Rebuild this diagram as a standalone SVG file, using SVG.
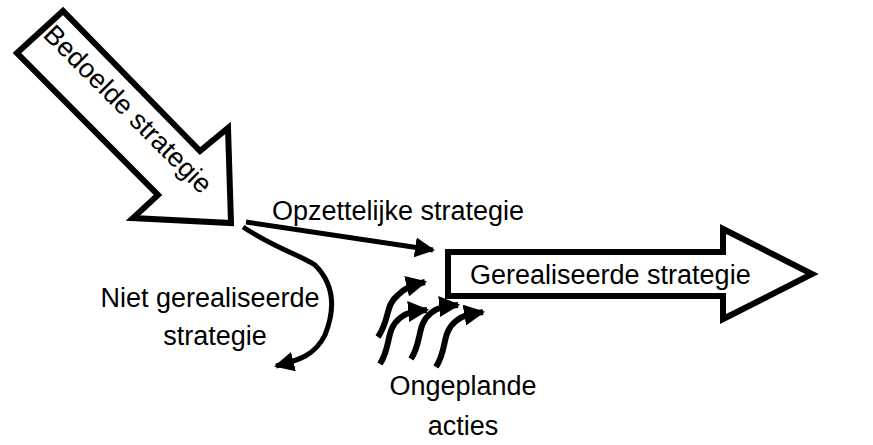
<svg xmlns="http://www.w3.org/2000/svg" width="873" height="445" viewBox="0 0 873 445">
<style>
.big{fill:#fff;stroke:#000;stroke-width:6;stroke-linejoin:miter}
.t{font-family:"Liberation Sans",Arial,sans-serif;font-size:27px;fill:#000}
.c{fill:none;stroke:#000;stroke-width:5}
.s{fill:none;stroke:#000;stroke-width:6}
</style>
<defs>
<marker id="ah" viewBox="0 0 10 10" refX="9" refY="5" markerWidth="4" markerHeight="4" markerUnits="strokeWidth" orient="auto"><path d="M0,0L10,5L0,10z" fill="#000"/></marker>
<marker id="ah2" viewBox="0 0 10 10" refX="9" refY="5" markerWidth="3.5" markerHeight="3.5" markerUnits="strokeWidth" orient="auto"><path d="M0,0L10,5L0,10z" fill="#000"/></marker>
</defs>
<g id="bedoelde">
<polygon class="big" points="17,53 63,11 200,151 228,128 231,223 133,218 158,195"/>
<text class="t" transform="translate(42,36) rotate(45)">Bedoelde strategie</text>
</g>
<g id="gerealiseerde">
<polygon class="big" points="448,252 723,252 723,229 812,274 723,319 723,296 448,296"/>
<text class="t" x="470" y="284">Gerealiseerde strategie</text>
</g>
<g id="labels">
<text class="t" x="272" y="220">Opzettelijke strategie</text>
<text class="t" x="210" y="307" text-anchor="middle">Niet gerealiseerde</text>
<text class="t" x="215" y="345" text-anchor="middle">strategie</text>
<text class="t" x="463" y="395" text-anchor="middle">Ongeplande</text>
<text class="t" x="463" y="435" text-anchor="middle">acties</text>
</g>
<g id="connectors">
<path class="c" d="M246,222 L433,250" marker-end="url(#ah)"/>
<path class="c" d="M243,227 C275,248 300,255 315,265 C335,285 335,310 325,335 C315,355 300,360 276,366" marker-end="url(#ah)"/>
<path class="s" d="M378,337 C390,320 385,305 398,295 C405,288 412,285 425,282" marker-end="url(#ah2)"/>
<path class="s" d="M380,364 C392,345 385,330 400,318 C407,312 415,311 427,310" marker-end="url(#ah2)"/>
<path class="s" d="M411,359 C423,340 416,325 431,313 C438,307 446,306 458,305" marker-end="url(#ah2)"/>
<path class="s" d="M436,367 C448,348 441,333 456,321 C463,315 471,314 483,312" marker-end="url(#ah2)"/>
</g>
</svg>
